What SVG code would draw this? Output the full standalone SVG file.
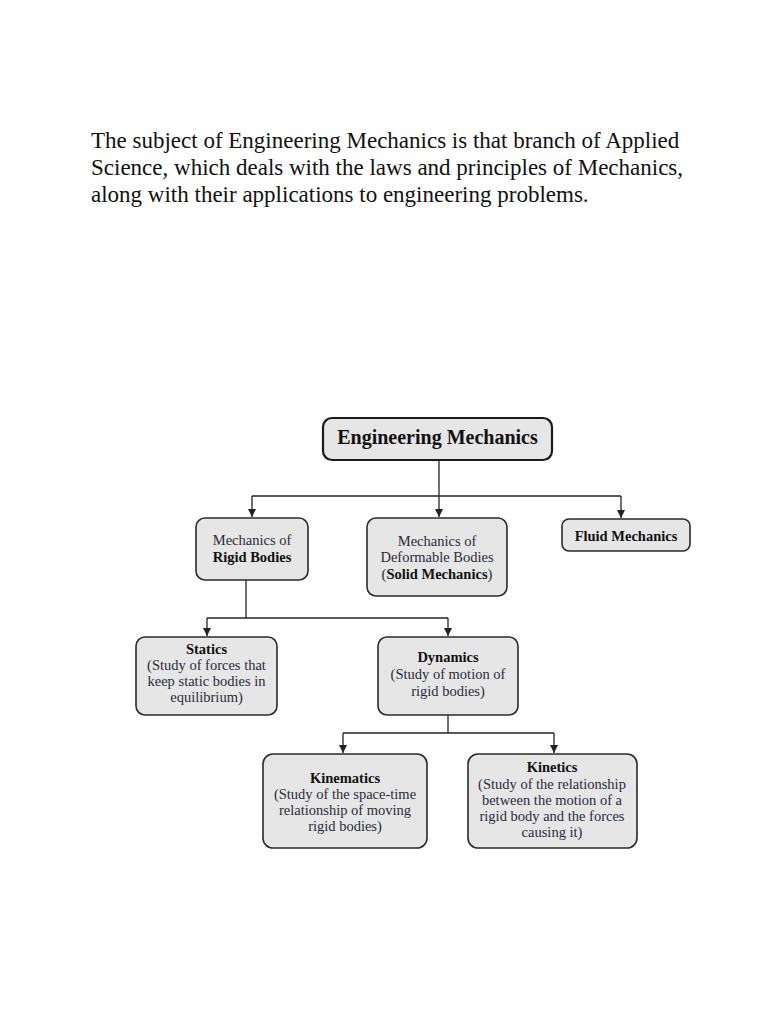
<svg xmlns="http://www.w3.org/2000/svg" width="768" height="1024" viewBox="0 0 768 1024">
<defs>
<marker id="arr" viewBox="0 0 8 10" refX="8" refY="5" markerWidth="8" markerHeight="10" markerUnits="userSpaceOnUse" orient="auto">
<path d="M0,1 L8,5 L0,9 z" fill="#222"/>
</marker>
<style>
.box{fill:#e6e6e6;stroke:#2a2a2a;stroke-width:1.6}
.tbox{fill:#e6e6e6;stroke:#1a1a1a;stroke-width:2.2}
.t{font-family:"Liberation Serif","Times New Roman",serif;font-size:14.5px;fill:#2a2a3a;text-anchor:middle}
.b{font-weight:bold;fill:#111}
.title{font-family:"Liberation Serif","Times New Roman",serif;font-size:20px;font-weight:bold;fill:#111;text-anchor:middle}
.para{font-family:"Liberation Serif","Times New Roman",serif;font-size:23px;fill:#111}
.c{fill:none;stroke:#222;stroke-width:1.3}
</style>
</defs>
<rect width="768" height="1024" fill="#ffffff"/>
<g id="paragraph">
<text class="para" x="91" y="148">The subject of Engineering Mechanics is that branch of Applied</text>
<text class="para" x="91" y="175">Science, which deals with the laws and principles of Mechanics,</text>
<text class="para" x="91" y="202">along with their applications to engineering problems.</text>
</g>
<g id="connectors">
<path class="c" d="M439,460 V517" marker-end="url(#arr)"/>
<path class="c" d="M252,496 H621"/>
<path class="c" d="M252,496 V517" marker-end="url(#arr)"/>
<path class="c" d="M621,496 V518" marker-end="url(#arr)"/>
<path class="c" d="M246,580 V618"/>
<path class="c" d="M207,618 H448"/>
<path class="c" d="M207,618 V636" marker-end="url(#arr)"/>
<path class="c" d="M448,618 V636" marker-end="url(#arr)"/>
<path class="c" d="M448,715 V733"/>
<path class="c" d="M343,733 H554"/>
<path class="c" d="M343,733 V753" marker-end="url(#arr)"/>
<path class="c" d="M554,733 V753" marker-end="url(#arr)"/>
</g>
<g id="engineering-mechanics">
<rect class="tbox" x="323" y="418" width="229" height="42" rx="9"/>
<text class="title" x="437.5" y="444">Engineering Mechanics</text>
</g>
<g id="rigid-bodies">
<rect class="box" x="196" y="518" width="112" height="62" rx="9"/>
<text class="t" x="252" y="545">Mechanics of</text>
<text class="t b" x="252" y="562">Rigid Bodies</text>
</g>
<g id="deformable-bodies">
<rect class="box" x="367" y="518" width="140" height="78" rx="9"/>
<text class="t" x="437" y="546">Mechanics of</text>
<text class="t" x="437" y="562">Deformable Bodies</text>
<text class="t" x="437" y="579">(<tspan class="b">Solid Mechanics</tspan>)</text>
</g>
<g id="fluid-mechanics">
<rect class="box" x="562" y="519" width="128" height="32" rx="7"/>
<text class="t b" x="626" y="541">Fluid Mechanics</text>
</g>
<g id="statics">
<rect class="box" x="136" y="637" width="141" height="78" rx="9"/>
<text class="t b" x="206.5" y="654">Statics</text>
<text class="t" x="206.5" y="670">(Study of forces that</text>
<text class="t" x="206.5" y="686">keep static bodies in</text>
<text class="t" x="206.5" y="702">equilibrium)</text>
</g>
<g id="dynamics">
<rect class="box" x="378" y="637" width="140" height="78" rx="9"/>
<text class="t b" x="448" y="662">Dynamics</text>
<text class="t" x="448" y="679">(Study of motion of</text>
<text class="t" x="448" y="696">rigid bodies)</text>
</g>
<g id="kinematics">
<rect class="box" x="263" y="754" width="164" height="94" rx="10"/>
<text class="t b" x="345" y="783">Kinematics</text>
<text class="t" x="345" y="799">(Study of the space-time</text>
<text class="t" x="345" y="815">relationship of moving</text>
<text class="t" x="345" y="831">rigid bodies)</text>
</g>
<g id="kinetics">
<rect class="box" x="468" y="754" width="169" height="94" rx="10"/>
<text class="t b" x="552" y="772">Kinetics</text>
<text class="t" x="552" y="789">(Study of the relationship</text>
<text class="t" x="552" y="805">between the motion of a</text>
<text class="t" x="552" y="821">rigid body and the forces</text>
<text class="t" x="552" y="837">causing it)</text>
</g>
</svg>
